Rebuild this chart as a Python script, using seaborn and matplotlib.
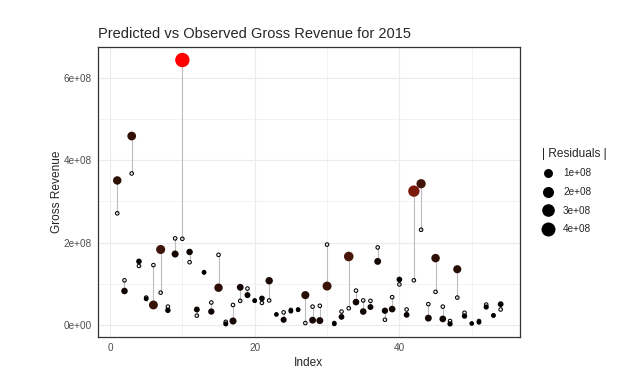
import numpy as np
import pandas as pd
import matplotlib
matplotlib.use("Agg")
import matplotlib.pyplot as plt
from matplotlib.colors import LinearSegmentedColormap
from matplotlib.lines import Line2D
import seaborn as sns

# values, in units of 1e8
movie_index = list(range(1, 55))
observed = [3.51, 0.82, 4.59, 1.54, 0.63, 0.48, 1.83, 0.35, 1.72, 6.44,
            1.77, 0.37, 1.28, 0.32, 0.90, 0.02, 0.09, 0.91, 0.72, 0.58,
            0.64, 1.07, 0.25, 0.12, 0.33, 0.36, 0.72, 0.11, 0.10, 0.94,
            0.02, 0.19, 1.66, 0.55, 0.32, 0.43, 1.54, 0.34, 0.38, 1.10,
            0.24, 3.25, 3.43, 0.16, 1.62, 0.14, 0.02, 1.35, 0.21, 0.03,
            0.06, 0.43, 0.22, 0.50]
predicted = [2.71, 1.08, 3.68, 1.43, 0.66, 1.45, 0.78, 0.44, 2.10, 2.09,
             1.52, 0.22, 1.27, 0.54, 1.70, 0.07, 0.48, 0.58, 0.88, 0.59,
             0.53, 0.59, 0.25, 0.30, 0.36, 0.37, 0.04, 0.44, 0.46, 1.95,
             0.04, 0.32, 0.40, 0.83, 0.59, 0.58, 1.88, 0.12, 0.67, 0.98,
             0.37, 1.08, 2.31, 0.50, 0.80, 0.44, 0.09, 0.66, 0.29, 0.03,
             0.09, 0.49, 0.23, 0.37]

x_ticks = [0, 20, 40]
y_ticks = [0, 2e8, 4e8, 6e8]
y_tick_labels = ["0e+00", "2e+08", "4e+08", "6e+08"]
legend_breaks = [1e8, 2e8, 3e8, 4e8]
legend_labels = ["1e+08", "2e+08", "3e+08", "4e+08"]

df = pd.DataFrame({
    "index": movie_index,
    "observed": np.array(observed) * 1e8,
    "predicted": np.array(predicted) * 1e8,
})
df["resid"] = (df["observed"] - df["predicted"]).abs()
rmin, rmax = df["resid"].min(), df["resid"].max()


def point_diam(r):
    # ggplot-like size scale: diameter grows with sqrt of rescaled value
    t = np.clip((np.asarray(r, dtype=float) - rmin) / (rmax - rmin), 0, 1)
    px = 1.9 + 2.08 * (1 + 5 * np.sqrt(t))
    return px * 0.72  # points at 100 dpi


# black -> red gradient interpolated in Lab, like ggplot
cmap = LinearSegmentedColormap.from_list(
    "blk_red",
    [(0, 0, 0), (63/255, 21/255, 8/255), (122/255, 27/255, 12/255),
     (186/255, 25/255, 9/255), (1, 0, 0)])

sns.set_style("white")
plt.rcParams["font.family"] = ["Liberation Sans", "DejaVu Sans"]

fig, ax = plt.subplots(figsize=(6.41, 3.87), dpi=100)
fig.subplots_adjust(left=0.153, right=0.811, top=0.879, bottom=0.129)

ax.vlines(df["index"], df["predicted"], df["observed"],
          color="#bdbdbd", lw=0.8, zorder=2)
sns.scatterplot(data=df, x="index", y="observed", hue="resid",
                palette=cmap, hue_norm=(rmin, rmax),
                s=point_diam(df["resid"]) ** 2, linewidth=0,
                legend=False, ax=ax, zorder=3)
sns.scatterplot(data=df, x="index", y="predicted", s=6.5,
                facecolor="none", edgecolor="black", linewidth=0.75,
                legend=False, ax=ax, zorder=4)

ax.margins(x=0.05, y=0.05)
ax.set_xticks(x_ticks)
ax.set_xticks([10, 30, 50], minor=True)
ax.set_yticks(y_ticks)
ax.set_yticklabels(y_tick_labels)
ax.set_yticks([1e8, 3e8, 5e8], minor=True)
ax.grid(which="major", color="#ebebeb", lw=0.8)
ax.grid(which="minor", color="#ebebeb", lw=0.45)
ax.set_axisbelow(True)
for sp in ax.spines.values():
    sp.set_color("#333333")
    sp.set_linewidth(0.9)
ax.tick_params(which="major", length=2.5, width=0.8, color="#333333",
               labelcolor="#4d4d4d", labelsize=7.2, pad=2)
ax.tick_params(which="minor", length=0)

ax.set_xlabel("Index", fontsize=8.6, labelpad=3)
ax.set_ylabel("Gross Revenue", fontsize=8.6, labelpad=0.5)
ax.set_title("Predicted vs Observed Gross Revenue for 2015",
             loc="left", fontsize=10.5, pad=6)

handles = [Line2D([], [], marker="o", ls="", color="black",
                  markeredgewidth=0, markersize=float(point_diam(b)))
           for b in legend_breaks]
fig.legend(handles, legend_labels, title="| Residuals |",
           loc="upper left", bbox_to_anchor=(537 / 641, 1 - 143 / 387),
           frameon=False, fontsize=7.2, title_fontsize=8.6,
           handlelength=1.2, handletextpad=0.9, labelspacing=0.85,
           borderpad=0, alignment="left")

fig.savefig("out.png", dpi=100)
